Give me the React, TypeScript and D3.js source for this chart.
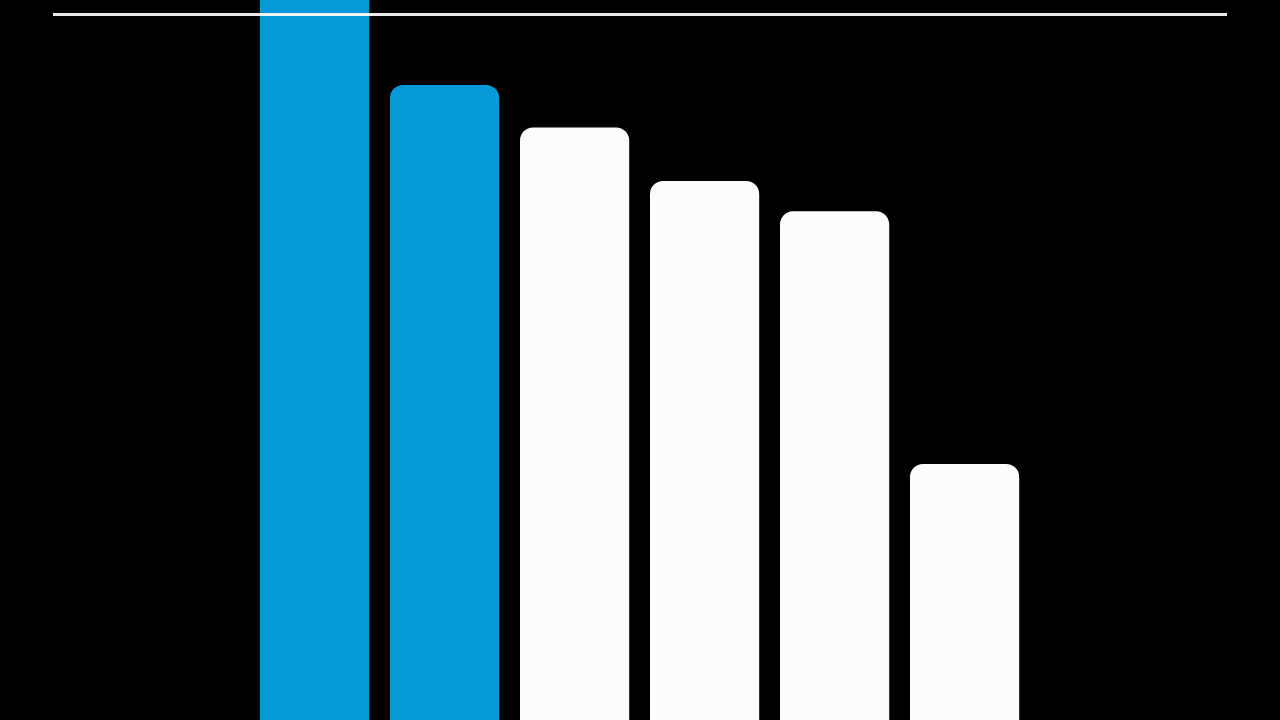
import React from 'react';
import * as d3 from 'd3';

const categories = ['A', 'B', 'C', 'D', 'E', 'F'];
const values = [110, 90, 84, 76.4, 72.1, 36.3];
const highlighted = ['A', 'B'];
const targetValue = 100;

const width = 1280;
const height = 720;
const margin = { left: 53, right: 53 };

const App: React.FC = () => {
    const xScale = d3.scaleBand<string>()
        .domain(categories)
        .range([249.6, 1029.6])
        .paddingInner(0.16)
        .paddingOuter(0.08);

    const yScale = d3.scaleLinear()
        .domain([0, targetValue])
        .range([height, 14.5]);

    const r = 13;
    const bw = xScale.bandwidth();

    // bar with rounded top corners only, bottom runs past the frame
    const barPath = (x: number, y: number) => {
        const p = d3.path();
        const bottom = height + 20;
        p.moveTo(x, bottom);
        p.lineTo(x, y + r);
        p.arcTo(x, y, x + r, y, r);
        p.lineTo(x + bw - r, y);
        p.arcTo(x + bw, y, x + bw, y + r, r);
        p.lineTo(x + bw, bottom);
        p.closePath();
        return p.toString();
    };

    return (
        <div style={{ position: 'fixed', left: 0, top: 0, width, height, background: '#000' }}>
            <svg width={width} height={height} style={{ display: 'block' }}>
                <rect width={width} height={height} fill="#000" />
                {categories.map((c, i) => (
                    <path
                        key={c}
                        d={barPath(xScale(c) as number, yScale(values[i]))}
                        fill={highlighted.includes(c) ? '#0599d8' : '#fbfcfb'}
                    />
                ))}
                <line
                    x1={margin.left}
                    x2={width - margin.right}
                    y1={yScale(targetValue)}
                    y2={yScale(targetValue)}
                    stroke="#fff"
                    strokeOpacity={0.92}
                    strokeWidth={3}
                />
            </svg>
        </div>
    );
};

export default App;
